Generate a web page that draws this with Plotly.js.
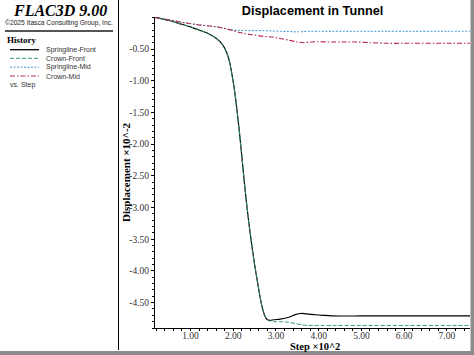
<!DOCTYPE html>
<html>
<head>
<meta charset="utf-8">
<script src="https://cdn.plot.ly/plotly-3.0.1.min.js"></script>
<style>html,body{margin:0;padding:0;background:#fff;}#chart{width:474px;height:355px;}</style>
</head>
<body>
<div id="chart"></div>
<script>
// ---- data (step in units of 10^2, displacement in units of 10^-2) ----
var stepFront = [0.17, 0.5, 0.8, 1.0, 1.2, 1.4, 1.6, 1.75, 1.85, 1.92, 1.97, 2.02, 2.08, 2.14, 2.20, 2.26, 2.32, 2.38, 2.44, 2.50, 2.56, 2.62, 2.68, 2.74, 2.80, 2.86, 2.95, 3.1, 3.3, 3.45, 3.6, 3.75, 3.9, 4.1, 4.3, 5.0, 6.0, 7.0, 7.54];
var springlineFront = [0, -0.05, -0.11, -0.15, -0.20, -0.25, -0.33, -0.43, -0.56, -0.72, -0.90, -1.10, -1.42, -1.78, -2.18, -2.60, -2.98, -3.32, -3.62, -3.90, -4.14, -4.38, -4.58, -4.71, -4.77, -4.78, -4.77, -4.76, -4.73, -4.69, -4.67, -4.68, -4.69, -4.70, -4.71, -4.71, -4.71, -4.71, -4.71];
var crownFront = [0, -0.05, -0.11, -0.15, -0.20, -0.25, -0.33, -0.43, -0.56, -0.72, -0.90, -1.10, -1.42, -1.78, -2.18, -2.60, -2.98, -3.32, -3.62, -3.90, -4.14, -4.38, -4.58, -4.71, -4.77, -4.79, -4.80, -4.80, -4.81, -4.83, -4.85, -4.86, -4.86, -4.86, -4.86, -4.86, -4.86, -4.86, -4.86];
var stepMid = [0.17, 0.5, 0.9, 1.2, 1.5, 1.7, 1.89, 2.0, 2.1, 2.3, 2.5, 2.7, 2.9, 3.1, 3.3, 3.5, 3.65, 3.8, 4.0, 4.3, 4.6, 4.9, 5.2, 5.6, 6.0, 7.0, 7.54];
var springlineMid = [0, -0.04, -0.09, -0.12, -0.14, -0.16, -0.19, -0.20, -0.205, -0.21, -0.21, -0.21, -0.215, -0.22, -0.225, -0.23, -0.225, -0.22, -0.22, -0.22, -0.22, -0.22, -0.22, -0.22, -0.22, -0.22, -0.22];
var crownMid = [0, -0.04, -0.09, -0.12, -0.14, -0.16, -0.19, -0.21, -0.23, -0.26, -0.28, -0.30, -0.31, -0.335, -0.36, -0.39, -0.40, -0.39, -0.385, -0.39, -0.39, -0.39, -0.40, -0.41, -0.41, -0.41, -0.41];
var seriesNames = ["Springline-Front", "Crown-Front", "Springline-Mid", "Crown-Mid"];
var xTicks = [1, 2, 3, 4, 5, 6, 7];
var yTicks = [-0.5, -1.0, -1.5, -2.0, -2.5, -3.0, -3.5, -4.0, -4.5];

// ---- styles ----
var colors = ["#000000", "#2e9a6a", "#3a97d8", "#b8264a"];
var dashes = ["solid", "4px,2px", "2px,1.5px", "5px,2px,1.5px,2px"];
var widths = [1.2, 1, 1, 1.1];

var W = 474, H = 355, ML = 155, MR = 4, MT = 17, MB = 27;
var PW = W - ML - MR, PH = H - MT - MB;
function px(x) { return (x - ML) / PW; }
function py(y) { return (H - MB - y) / PH; }

var xs = [stepFront, stepFront, stepMid, stepMid];
var ys = [springlineFront, crownFront, springlineMid, crownMid];
var traces = [];
for (var i = 0; i < 4; i++) {
  traces.push({
    x: xs[i], y: ys[i], name: seriesNames[i], type: "scatter", mode: "lines",
    line: {color: colors[i], dash: dashes[i], width: widths[i], shape: "spline", smoothing: 0.6},
    showlegend: false, hoverinfo: "skip"
  });
}

var serif = "Liberation Serif, Times New Roman, serif";
var sans = "Liberation Sans, Arial, sans-serif";

var shapes = [
  {type: "line", xref: "paper", yref: "paper", x0: px(118.5), x1: px(118.5), y0: py(0), y1: py(350), line: {color: "#000", width: 1}},
  {type: "line", xref: "paper", yref: "paper", x0: px(5), x1: px(113), y0: py(31), y1: py(31), line: {color: "#555", width: 2}},
  {type: "rect", xref: "paper", yref: "paper", x0: px(0), x1: px(474), y0: py(351), y1: py(355), fillcolor: "#8c8c8c", line: {width: 0}},
  {type: "rect", xref: "paper", yref: "paper", x0: px(470.5), x1: px(474), y0: py(0), y1: py(355), fillcolor: "#8c8c8c", line: {width: 0}}
];
var annotations = [
  {text: "<b><i>FLAC3D 9.00</i></b>", x: px(60), y: py(11), xref: "paper", yref: "paper", showarrow: false, xanchor: "center", yanchor: "middle", font: {family: serif, size: 16, color: "#000"}},
  {text: "©2025 Itasca Consulting Group, Inc.", x: px(59), y: py(23), xref: "paper", yref: "paper", showarrow: false, xanchor: "center", yanchor: "middle", font: {family: sans, size: 6.7, color: "#222"}},
  {text: "<b>History</b>", x: px(5), y: py(39.5), xref: "paper", yref: "paper", showarrow: false, xanchor: "left", yanchor: "middle", font: {family: serif, size: 9, color: "#000"}},
  {text: "vs. Step", x: px(8), y: py(85), xref: "paper", yref: "paper", showarrow: false, xanchor: "left", yanchor: "middle", font: {family: sans, size: 7, color: "#333"}},
  {text: "<b>Displacement ×10^-2</b>", x: px(126), y: py(172), xref: "paper", yref: "paper", showarrow: false, textangle: -90, xanchor: "center", yanchor: "middle", font: {family: serif, size: 11, color: "#000"}},
  {text: "<b>Step ×10^2</b>", x: px(315), y: py(346.5), xref: "paper", yref: "paper", showarrow: false, xanchor: "center", yanchor: "middle", font: {family: serif, size: 10.5, color: "#000"}}
];
var rowY = [49.7, 58.3, 67.2, 76];
for (var k = 0; k < 4; k++) {
  shapes.push({type: "line", xref: "paper", yref: "paper", x0: px(10), x1: px(39), y0: py(rowY[k]), y1: py(rowY[k]), line: {color: colors[k], dash: dashes[k], width: k === 0 ? 1.3 : 1}});
  annotations.push({text: seriesNames[k], x: px(44), y: py(rowY[k]), xref: "paper", yref: "paper", showarrow: false, xanchor: "left", yanchor: "middle", font: {family: sans, size: 7, color: "#333"}});
}

var layout = {
  width: W, height: H,
  margin: {l: ML, r: MR, t: MT, b: MB, pad: 0},
  paper_bgcolor: "#fff", plot_bgcolor: "#fff",
  showlegend: false,
  title: {text: "<b>Displacement in Tunnel</b>", x: 0.5, xref: "paper", y: 1 - 10.7 / H, yanchor: "middle",
          font: {family: sans, size: 12.7, color: "#000"}},
  xaxis: {
    range: [0.17, 7.54], showline: true, linecolor: "#000", linewidth: 1, mirror: false,
    showgrid: false, zeroline: false,
    tickmode: "array", tickvals: xTicks, ticktext: xTicks.map(function (v) { return v.toFixed(2); }),
    ticks: "outside", ticklen: 2, tickwidth: 1, tickcolor: "#000", ticklabelstandoff: -3,
    minor: {dtick: 0.2, tick0: 0, ticks: "outside", ticklen: 2, tickcolor: "#000", showgrid: false},
    tickfont: {family: serif, size: 9.5, color: "#333"}
  },
  yaxis: {
    range: [-4.90, 0.005], showline: true, linecolor: "#000", linewidth: 1, mirror: false,
    showgrid: false, zeroline: false,
    tickmode: "array", tickvals: yTicks, ticktext: yTicks.map(function (v) { return v.toFixed(2); }),
    ticks: "outside", ticklen: 3, tickwidth: 1, tickcolor: "#000",
    minor: {dtick: 0.1, tick0: 0, ticks: "outside", ticklen: 2, tickcolor: "#000", showgrid: false},
    tickfont: {family: serif, size: 9.5, color: "#333"}
  },
  shapes: shapes,
  annotations: annotations
};

Plotly.newPlot("chart", traces, layout, {displayModeBar: false, staticPlot: true});
</script>
</body>
</html>
